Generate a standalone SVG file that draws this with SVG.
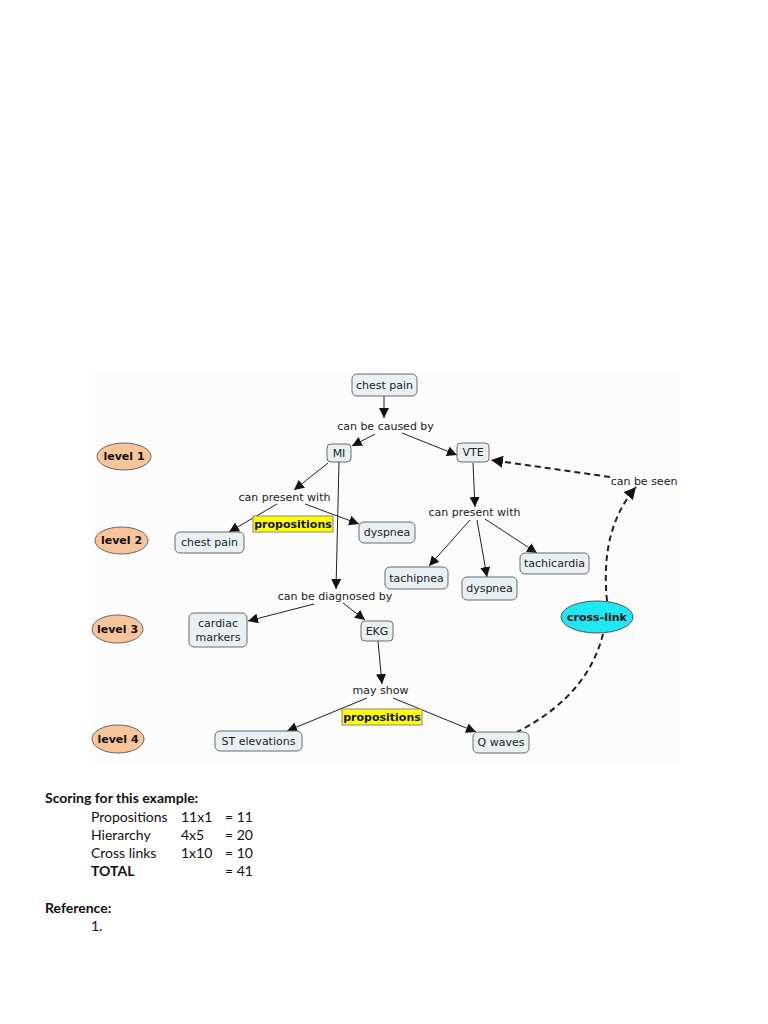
<svg xmlns="http://www.w3.org/2000/svg" width="768" height="1024" viewBox="0 0 768 1024">
<style>
.nd rect{fill:#e8f0f4;stroke:#6b6b6b;stroke-width:1}
.t{font-family:"DejaVu Sans",Verdana,sans-serif;font-size:11px;fill:#222;text-anchor:middle;dominant-baseline:central}
.b{font-weight:bold;fill:#111}
.lv ellipse{fill:#f8c49a;stroke:#666;stroke-width:1}
.pr rect{fill:#ffff00;stroke:#888;stroke-width:1}
.c line,.c path{stroke:#222;stroke-width:1;fill:none}
.c .d{stroke:#222;stroke-width:2;fill:none;stroke-dasharray:6 4}
.s{font-family:Lato,"Open Sans",sans-serif;font-size:14px;fill:#111}
</style>
<defs>
<marker id="ar" viewBox="0 0 10 10" refX="10" refY="5" markerWidth="10" markerHeight="10" markerUnits="userSpaceOnUse" orient="auto">
<path d="M0,0 L10,5 L0,10 z" fill="#111"/>
</marker>
<marker id="ar2" viewBox="0 0 10 10" refX="10" refY="5" markerWidth="12" markerHeight="12" markerUnits="userSpaceOnUse" orient="auto">
<path d="M0,0 L10,5 L0,10 z" fill="#111"/>
</marker>
</defs>
<rect x="0" y="0" width="768" height="1024" fill="#ffffff"/>
<rect x="92" y="372" width="588" height="393" fill="#fcfcfc"/>

<g id="connectors" class="c">
<line x1="384" y1="396" x2="384" y2="418" marker-end="url(#ar)"/>
<line x1="375" y1="434" x2="352" y2="446" marker-end="url(#ar)"/>
<line x1="402" y1="433" x2="457" y2="455" marker-end="url(#ar)"/>
<line x1="328" y1="463" x2="294" y2="490" marker-end="url(#ar)"/>
<line x1="277" y1="504" x2="229" y2="532" marker-end="url(#ar)"/>
<line x1="305" y1="504" x2="359" y2="524" marker-end="url(#ar)"/>
<line x1="339" y1="462" x2="336" y2="589" marker-end="url(#ar)"/>
<line x1="314" y1="604" x2="248" y2="621" marker-end="url(#ar)"/>
<line x1="343" y1="603" x2="365" y2="620" marker-end="url(#ar)"/>
<line x1="378" y1="641" x2="382" y2="684" marker-end="url(#ar)"/>
<line x1="367" y1="698" x2="287" y2="731" marker-end="url(#ar)"/>
<line x1="393" y1="698" x2="476" y2="732" marker-end="url(#ar)"/>
<line x1="473" y1="463" x2="475" y2="507" marker-end="url(#ar)"/>
<line x1="470" y1="520" x2="429" y2="566" marker-end="url(#ar)"/>
<line x1="477" y1="520" x2="487" y2="577" marker-end="url(#ar)"/>
<line x1="485" y1="519" x2="537" y2="553" marker-end="url(#ar)"/>
<path class="d" d="M610,477 L491,460" marker-end="url(#ar2)"/>
<path class="d" d="M607,601 C603,560 608,520 636,487" marker-end="url(#ar2)"/>
<path class="d" d="M603,634 C594,670 570,705 517,732"/>
</g>

<g id="n-chestpain-top" class="nd"><rect x="352" y="374" width="65" height="22" rx="5"/><text class="t" x="384.5" y="385">chest pain</text></g>
<g id="n-mi" class="nd"><rect x="327" y="444" width="24" height="18" rx="4"/><text class="t" x="339" y="453">MI</text></g>
<g id="n-vte" class="nd"><rect x="457" y="443" width="32" height="19" rx="4"/><text class="t" x="473" y="452.5">VTE</text></g>
<g id="n-chestpain-2" class="nd"><rect x="175" y="532" width="69" height="21" rx="5"/><text class="t" x="209.5" y="542.5">chest pain</text></g>
<g id="n-dyspnea-1" class="nd"><rect x="359" y="522" width="56" height="21" rx="5"/><text class="t" x="387" y="532.5">dyspnea</text></g>
<g id="n-tachipnea" class="nd"><rect x="385" y="567" width="63" height="22" rx="5"/><text class="t" x="416.5" y="578">tachipnea</text></g>
<g id="n-dyspnea-2" class="nd"><rect x="462" y="577" width="55" height="23" rx="5"/><text class="t" x="489.5" y="588.5">dyspnea</text></g>
<g id="n-tachicardia" class="nd"><rect x="520" y="553" width="69" height="21" rx="5"/><text class="t" x="554.5" y="563.5">tachicardia</text></g>
<g id="n-cardiac" class="nd"><rect x="189" y="613" width="58" height="34" rx="5"/><text class="t" x="218" y="623">cardiac</text><text class="t" x="218" y="637">markers</text></g>
<g id="n-ekg" class="nd"><rect x="361" y="621" width="32" height="20" rx="4"/><text class="t" x="377" y="631">EKG</text></g>
<g id="n-st" class="nd"><rect x="215" y="731" width="87" height="20" rx="5"/><text class="t" x="258.5" y="741">ST elevations</text></g>
<g id="n-q" class="nd"><rect x="473" y="732" width="56" height="21" rx="5"/><text class="t" x="501" y="742.5">Q waves</text></g>

<g id="l-caused"><text class="t" x="385.5" y="426">can be caused by</text></g>
<g id="l-present-1"><text class="t" x="284.5" y="497">can present with</text></g>
<g id="l-present-2"><text class="t" x="474.5" y="512">can present with</text></g>
<g id="l-seen"><text class="t" x="644" y="481">can be seen</text></g>
<g id="l-diag"><text class="t" x="335" y="596">can be diagnosed by</text></g>
<g id="l-show"><text class="t" x="380.5" y="690">may show</text></g>

<g id="p-1" class="pr"><rect x="253" y="516" width="80" height="16"/><text class="t b" x="293" y="524">propositions</text></g>
<g id="p-2" class="pr"><rect x="342" y="709" width="80" height="16"/><text class="t b" x="382" y="717">propositions</text></g>

<g id="lv1" class="lv"><ellipse cx="124" cy="456.5" rx="27" ry="13.5"/><text class="t b" x="124" y="456.5">level 1</text></g>
<g id="lv2" class="lv"><ellipse cx="121.5" cy="540.5" rx="26.5" ry="13.5"/><text class="t b" x="121.5" y="540.5">level 2</text></g>
<g id="lv3" class="lv"><ellipse cx="117.5" cy="629" rx="25.5" ry="14"/><text class="t b" x="117.5" y="629">level 3</text></g>
<g id="lv4" class="lv"><ellipse cx="118" cy="739" rx="26" ry="14"/><text class="t b" x="118" y="739">level 4</text></g>

<g id="crosslink"><ellipse cx="597" cy="617" rx="36" ry="16" fill="#1ee8f2" stroke="#555" stroke-width="1"/><text class="t b" x="597" y="617">cross-link</text></g>

<g id="scoring">
<text class="s" x="45" y="803" font-weight="bold">Scoring for this example:</text>
<text class="s" x="91" y="822">Propositions</text><text class="s" x="181" y="822">11x1</text><text class="s" x="225" y="822">= 11</text>
<text class="s" x="91" y="840">Hierarchy</text><text class="s" x="181" y="840">4x5</text><text class="s" x="225" y="840">= 20</text>
<text class="s" x="91" y="858">Cross links</text><text class="s" x="181" y="858">1x10</text><text class="s" x="225" y="858">= 10</text>
<text class="s" x="91" y="876" font-weight="bold">TOTAL</text><text class="s" x="225" y="876">= 41</text>
<text class="s" x="45" y="913" font-weight="bold">Reference:</text>
<text class="s" x="91" y="931">1.</text>
</g>
</svg>
